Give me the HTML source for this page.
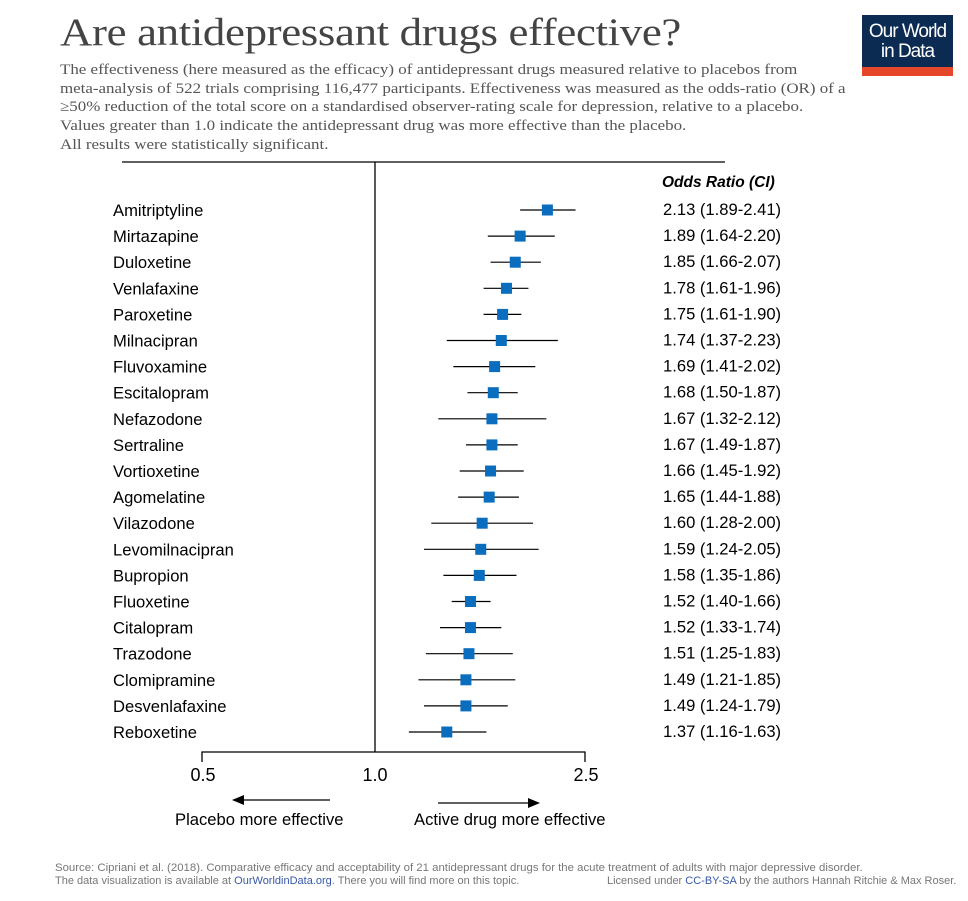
<!DOCTYPE html>
<html><head><meta charset="utf-8"><style>
body{margin:0;background:#fff;width:968px;height:901px;overflow:hidden;font-family:"Liberation Sans",sans-serif}
.t{position:absolute;left:60px;top:10px;font-family:"Liberation Serif",serif;font-size:39px;color:#444;letter-spacing:-0.3px;transform:scaleX(1.15);transform-origin:0 0;white-space:nowrap}
.s{position:absolute;left:60px;top:61px;font-family:"Liberation Serif",serif;font-size:14.6px;line-height:18.7px;color:#555;width:800px;transform:scaleX(1.16);transform-origin:0 0;white-space:nowrap}
.logo{position:absolute;left:862px;top:15px;width:91px;height:61px;background:#0c2b52;color:#fff;text-align:center;font-size:19px;line-height:20px;letter-spacing:-1px}
.logo .r{position:absolute;left:0;bottom:0;width:100%;height:9px;background:#e6472b}
.f{position:absolute;font-size:11px;color:#777;white-space:nowrap}
.f a{color:#3758a8;text-decoration:none}
</style></head><body>
<div class="t">Are antidepressant drugs effective?</div>
<div class="s">The effectiveness (here measured as the efficacy) of antidepressant drugs measured relative to placebos from<br>meta-analysis of 522 trials comprising 116,477 participants. Effectiveness was measured as the odds-ratio (OR) of a<br>≥50% reduction of the total score on a standardised observer-rating scale for depression, relative to a placebo.<br>Values greater than 1.0 indicate the antidepressant drug was more effective than the placebo.<br>All results were statistically significant.</div>
<div class="logo"><div style="padding-top:7px">Our World<br>in Data</div><div class="r"></div></div>
<svg width="968" height="901" style="position:absolute;left:0;top:0" font-family="Liberation Sans, sans-serif">
<line x1="122" y1="162" x2="725" y2="162" stroke="#000" stroke-width="1.3"/>
<line x1="375" y1="162" x2="375" y2="752" stroke="#000" stroke-width="1.3"/>
<path d="M202 762V752H585V762" fill="none" stroke="#000" stroke-width="1.3"/>
<text x="662" y="187" font-size="15.5" font-weight="bold" font-style="italic">Odds Ratio (CI)</text>
<g font-size="18" text-anchor="middle"><text x="203" y="781">0.5</text><text x="375" y="781">1.0</text><text x="586" y="781">2.5</text></g>
<line x1="240" y1="800" x2="330" y2="800" stroke="#000" stroke-width="1.3"/><path d="M232 800l12-5v10z"/>
<line x1="438" y1="803" x2="530" y2="803" stroke="#000" stroke-width="1.3"/><path d="M540 803l-12-5v10z"/>
<g font-size="16.6"><text x="175" y="825">Placebo more effective</text><text x="414" y="825">Active drug more effective</text></g>
<g id="rows" font-size="16.6"></g>
</svg>
<div class="f" style="left:55px;top:862px;font-size:11.4px">Source: Cipriani et al. (2018). Comparative efficacy and acceptability of 21 antidepressant drugs for the acute treatment of adults with major depressive disorder.</div>
<div class="f" style="left:55px;top:875px">The data visualization is available at <a>OurWorldinData.org</a>. There you will find more on this topic.</div>
<div class="f" style="left:607px;top:875px">Licensed under <a>CC-BY-SA</a> by the authors Hannah Ritchie &amp; Max Roser.</div>
<script>
const d=[["Amitriptyline",2.13,1.89,2.41],["Mirtazapine",1.89,1.64,2.20],["Duloxetine",1.85,1.66,2.07],["Venlafaxine",1.78,1.61,1.96],["Paroxetine",1.75,1.61,1.90],["Milnacipran",1.74,1.37,2.23],["Fluvoxamine",1.69,1.41,2.02],["Escitalopram",1.68,1.50,1.87],["Nefazodone",1.67,1.32,2.12],["Sertraline",1.67,1.49,1.87],["Vortioxetine",1.66,1.45,1.92],["Agomelatine",1.65,1.44,1.88],["Vilazodone",1.60,1.28,2.00],["Levomilnacipran",1.59,1.24,2.05],["Bupropion",1.58,1.35,1.86],["Fluoxetine",1.52,1.40,1.66],["Citalopram",1.52,1.33,1.74],["Trazodone",1.51,1.25,1.83],["Clomipramine",1.49,1.21,1.85],["Desvenlafaxine",1.49,1.24,1.79],["Reboxetine",1.37,1.16,1.63]];
const X=v=>375+228*Math.log(v);let h="";
d.forEach((r,i)=>{const y=210+26.1*i;
h+=`<text x="113" y="${y+6}">${r[0]}</text><text x="663" y="${y+5}">${r[1].toFixed(2)} (${r[2].toFixed(2)}-${r[3].toFixed(2)})</text><line x1="${X(r[2])}" y1="${y}" x2="${X(r[3])}" y2="${y}" stroke="#000" stroke-width="1.2"/><rect x="${X(r[1])-5.5}" y="${y-5.5}" width="11" height="11" fill="#0a6dbd"/>`;});
document.getElementById("rows").innerHTML=h;
</script>
</body></html>
